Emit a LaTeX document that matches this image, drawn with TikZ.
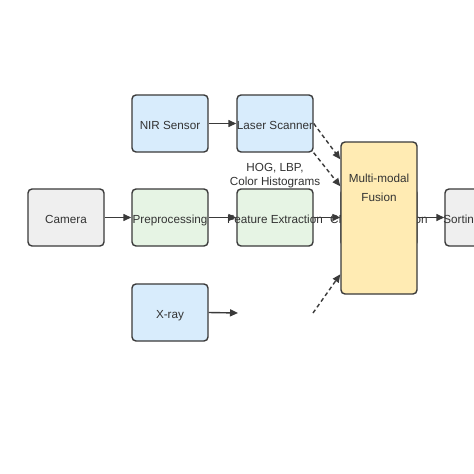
\documentclass[tikz,border=0pt]{standalone}
\usepackage{fontspec}
\setmainfont{Liberation Sans}
\usetikzlibrary{arrows.meta,calc}
\definecolor{edgec}{HTML}{3A3A3A}
\definecolor{txtc}{HTML}{333333}
\definecolor{bluef}{HTML}{D8ECFC}
\definecolor{greenf}{HTML}{E6F4E4}
\definecolor{grayf}{HTML}{EFEFEF}
\definecolor{yellowf}{HTML}{FFEBB3}
\newcommand\ztxt[1]{\raisebox{-5.5pt}[0pt][0pt]{\makebox[0pt]{#1}}}
\begin{document}
\begin{tikzpicture}[x=1pt,y=-1pt,
  font=\fontsize{11.7}{14}\selectfont,
  box/.style={draw=edgec,line width=1.4pt,rounded corners=4pt,minimum width=76pt,minimum height=57pt,inner sep=0pt,text=txtc},
  link/.style={draw=edgec,line width=1.4pt,-{Triangle[length=8pt,width=7pt]}},
  dlink/.style={link,dash pattern=on 4pt off 3pt},
  lbl/.style={text=txtc,inner sep=0pt,align=center}]
\useasboundingbox (0,0) rectangle (474,474);
\fill[white] (0,0) rectangle (474,474);
\node[box,fill=grayf] (camera) at (66,217.5) {\ztxt{Camera}};
\node[box,fill=greenf] (pre) at (170,217.5) {\ztxt{Preprocessing}};
\node[box,fill=greenf] (feat) at (275,217.5) {\ztxt{Feature Extraction}};
\node[box,fill=bluef] (nir) at (170,123.5) {\ztxt{NIR Sensor}};
\node[box,fill=bluef] (laser) at (275,123.5) {\ztxt{Laser Scanner}};
\node[box,fill=bluef] (xray) at (170,312.5) {\ztxt{X-ray}};
\node[box,fill=grayf] (sort) at (483,217.5) {\ztxt{Sorting System}};
\node[box,fill=grayf] (cls) at (379,217.5) {\ztxt{CNN Classification}};
\coordinate (xout) at (238,313);
\coordinate (xfree) at (313,313);
\draw[link] (camera) -- (pre);
\draw[link] (pre) -- (feat);
\draw[link] (nir) -- (laser);
\draw[link] (feat) -- (cls);
\draw[link] (cls) -- (sort);
\draw[link] (xray.east) -- (xout);
\node[box,fill=yellowf,minimum height=152pt] (fusion) at (379,218) {};
\node[lbl] (fusiontxt) at (379,187.5) {Multi-modal\\[5pt]Fusion};
\node[lbl] (feattxt) at (275,175.5) {HOG, LBP,\\Color Histograms};
\draw[dlink] (laser.east) -- ($(fusion.north west)+(0,18)$);
\draw[dlink] (laser.south east) -- ($(fusion.north west)+(0,45)$);
\draw[dlink] (xfree) -- ($(fusion.north west)+(0,133)$);
\end{tikzpicture}
\end{document}
